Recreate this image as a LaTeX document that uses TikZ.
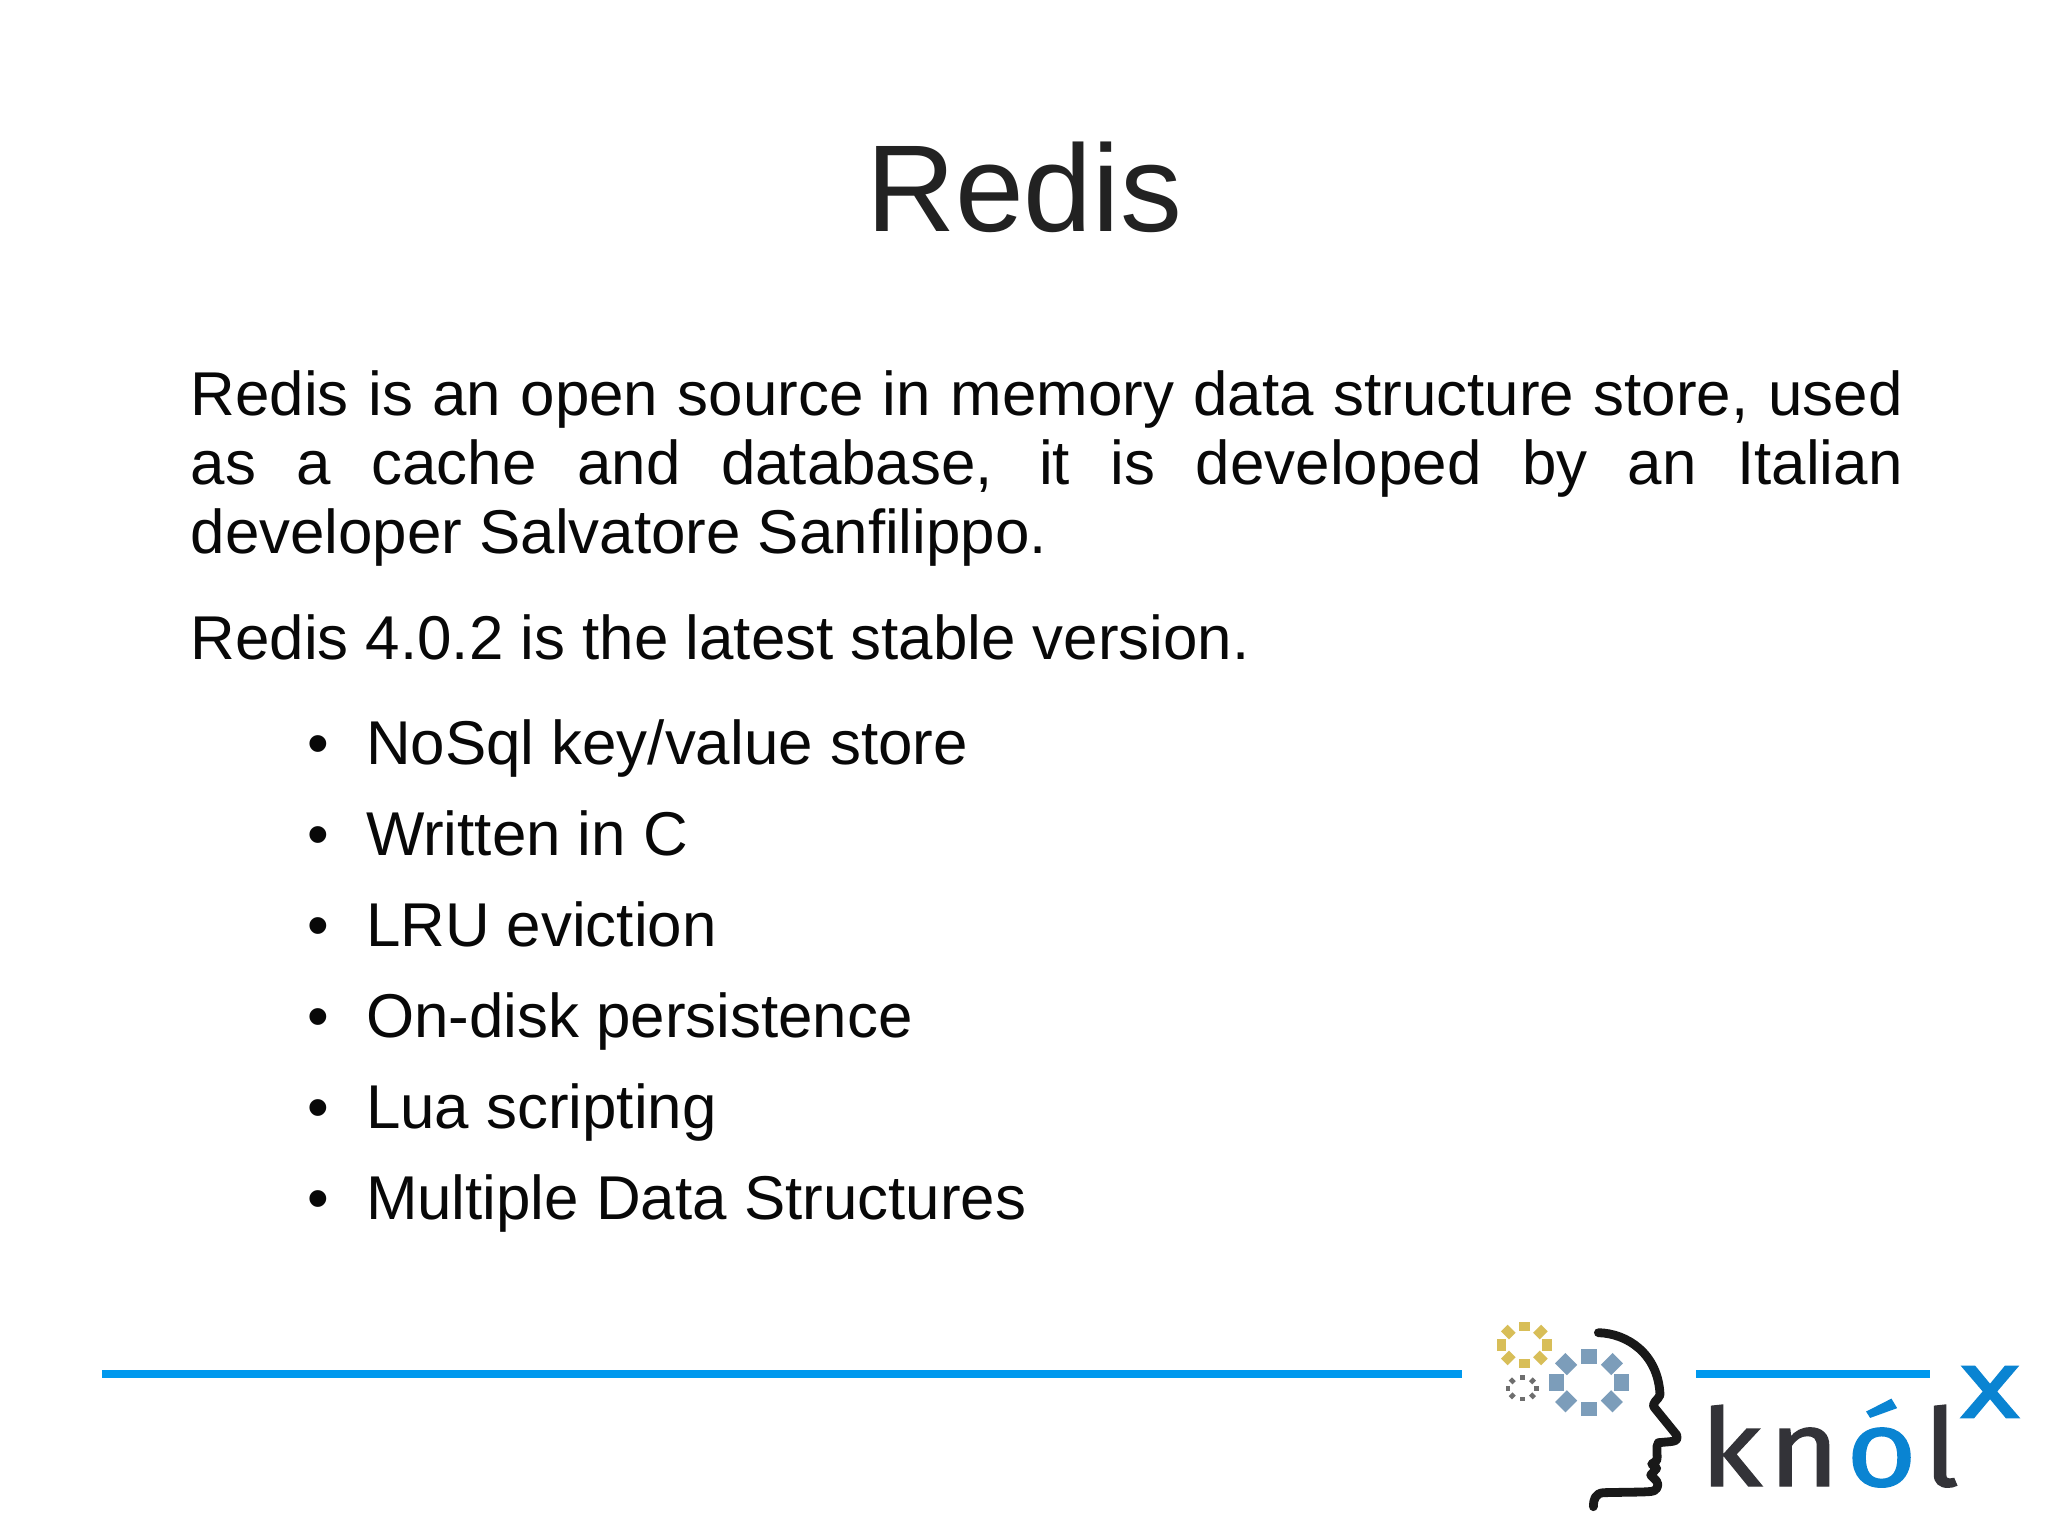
\documentclass[tikz,border=0pt]{standalone}
\usepackage{fontspec}
\setmainfont{Liberation Sans}
\newfontfamily\logofont[FakeBold=1.2]{Fira Sans}
\newfontfamily\supfont[FakeBold=3]{Open Sans}
\definecolor{titlecol}{HTML}{222222}
\definecolor{bodycol}{HTML}{080808}
\definecolor{rulecol}{HTML}{0099EE}
\definecolor{logoblue}{HTML}{0A84D2}
\definecolor{logodark}{HTML}{333338}
\definecolor{gearyellow}{HTML}{D8BE58}
\definecolor{gearblue}{HTML}{7C9DBA}
\definecolor{geargrey}{HTML}{6E6E6E}
\tikzset{
  titletext/.style={anchor=base,inner sep=0pt,outer sep=0pt,text=titlecol,font=\fontsize{61.8}{70}\selectfont},
  bodytext/.style={anchor=base west,inner sep=0pt,outer sep=0pt,text=bodycol,font=\fontsize{30.93}{34.6}\selectfont},
  para/.style={bodytext,text width=856pt,align=justify},
  dot/.style={anchor=base,inner sep=0pt,outer sep=0pt,text=bodycol,font=\fontsize{30.93}{34.6}\selectfont},
  rule/.style={draw=rulecol,line width=3.6pt},
  head/.style={draw=black!90,line width=4.4pt,line cap=round,line join=round}
}
\begin{document}
\begin{tikzpicture}[x=0.5pt,y=-0.5pt]
\useasboundingbox (0,0) rectangle (2048,1535);
\fill[white] (0,0) rectangle (2048,1535);
\node[titletext] (title) at (1024,232) {Redis};
\node[para,anchor=north west] (intro) at (190.7,370.5) {\parfillskip=0pt plus 1fil Redis is an open source in memory data structure store, used\linebreak as a cache and database, it is developed by an Italian\linebreak developer Salvatore Sanfilippo.};
\node[bodytext] (ver) at (190.7,659) {Redis 4.0.2 is the latest stable version.};
\foreach \n/\y/\t in {a/764.5/NoSql key\slash value store,b/855.4/Written in C,c/946.3/LRU eviction,d/1037.2/On-disk persistence,e/1128.1/Lua scripting,f/1219/Multiple Data Structures}{
  \node[dot] (dot\n) at (318,\y) {•};
  \node[bodytext] (item\n) at (366,\y) {\t};
}
\coordinate (ruleAstart) at (102,1374);
\coordinate (ruleAend) at (1462,1374);
\coordinate (ruleBstart) at (1696,1374);
\coordinate (ruleBend) at (1930,1374);
\draw[rule] (ruleAstart) -- (ruleAend);
\draw[rule] (ruleBstart) -- (ruleBend);
% logo
\begin{scope}[shift={(1480,1310)},x=0.16667pt,y=-0.16667pt]
\foreach \a in {0,45,...,315}{
  \fill[gearyellow,shift={({133+68*cos(\a)},{105+55*sin(\a)})},rotate=\a] (-14,-17) rectangle (14,17);
  \fill[gearblue,shift={({327+97*cos(\a)},{218+79*sin(\a)})},rotate=\a] (-22,-25) rectangle (22,25);
  \fill[geargrey,shift={({127+43*cos(\a)},{235+32*sin(\a)})},rotate=\a] (-7,-8) rectangle (7,8);
}
\draw[head] (355,68) .. controls (440,70) and (535,130) .. (540,255)
  .. controls (535,270) and (510,280) .. (525,295)
  -- (590,375) .. controls (595,392) and (585,393) .. (570,395)
  -- (535,398) .. controls (525,410) and (535,440) .. (530,452)
  -- (515,462) -- (530,475) -- (512,495)
  .. controls (525,510) and (540,515) .. (530,535)
  .. controls (525,548) and (510,545) .. (370,548)
  .. controls (345,550) and (340,570) .. (340,590);
\end{scope}
\node[anchor=base west,inner sep=0pt,outer sep=0pt,font=\logofont\fontsize{54}{60}\selectfont,text=logodark] (knol) at (1700,1486) {\scalebox{1.12}[1]{k\kern3pt n\kern3pt\textcolor{logoblue}{ó}\kern3pt l}};
\node[anchor=base,inner sep=0pt,outer sep=0pt,font=\supfont\fontsize{46.7}{50}\selectfont,text=logoblue] (sup) at (1990,1417) {\scalebox{1.2}[1]{x}};
\end{tikzpicture}
\end{document}
